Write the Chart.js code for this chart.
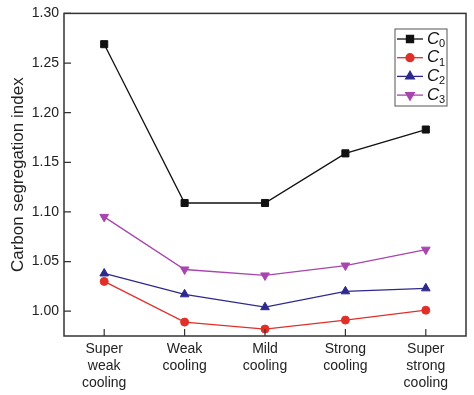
<!DOCTYPE html>
<html>
<head>
<meta charset="utf-8">
<script src="https://cdn.jsdelivr.net/npm/chart.js@4"></script>
<style>
  html, body { margin: 0; padding: 0; background: #fff; }
  #wrap { width: 474px; height: 395px; }
</style>
</head>
<body>
<div id="wrap"><canvas id="chart" width="474" height="395"></canvas></div>
<script>
const categories = [
    ["Super", "weak", "cooling"],
    ["Weak", "cooling"],
    ["Mild", "cooling"],
    ["Strong", "cooling"],
    ["Super", "strong", "cooling"],
];
const c0 = [1.269, 1.109, 1.109, 1.159, 1.183];
const c1 = [1.030, 0.989, 0.982, 0.991, 1.001];
const c2 = [1.038, 1.017, 1.004, 1.020, 1.023];
const c3 = [1.095, 1.042, 1.036, 1.046, 1.062];
const seriesNames = ["0", "1", "2", "3"];
const yTicks = [1.00, 1.05, 1.10, 1.15, 1.20, 1.25, 1.30];

const axisColor = "#333";
const font = "Liberation Sans, Arial, sans-serif";

function series(data, color, style, radius, rotation) {
    return {
        data: data,
        borderColor: color,
        backgroundColor: color,
        borderWidth: 1.3,
        pointStyle: style,
        pointRadius: radius,
        pointRotation: rotation,
        pointBorderWidth: 1,
        tension: 0,
    };
}

// frame, inward ticks and legend with subscripts
const extras = {
    id: "extras",
    afterDraw(chart) {
        const ctx = chart.ctx;
        const a = chart.chartArea;
        const x = chart.scales.x;
        const y = chart.scales.y;
        ctx.save();
        ctx.strokeStyle = axisColor;
        ctx.lineWidth = 1.5;
        ctx.strokeRect(a.left, a.top, a.right - a.left, a.bottom - a.top);
        ctx.lineWidth = 1.2;
        ctx.beginPath();
        y.ticks.forEach((t) => {
            const py = y.getPixelForValue(t.value);
            ctx.moveTo(a.left, py);
            ctx.lineTo(a.left + 7, py);
        });
        categories.forEach((c, i) => {
            const px = x.getPixelForValue(i);
            ctx.moveTo(px, a.bottom);
            ctx.lineTo(px, a.bottom - 7);
        });
        ctx.stroke();

        // legend
        const lx = 395, ly = 29, lw = 52, lh = 77;
        ctx.lineWidth = 1;
        ctx.strokeStyle = "#555";
        ctx.strokeRect(lx, ly, lw, lh);
        chart.data.datasets.forEach((ds, i) => {
            const ry = 39 + i * 18.7;
            ctx.strokeStyle = ds.borderColor;
            ctx.lineWidth = 1.3;
            ctx.beginPath();
            ctx.moveTo(lx + 2, ry);
            ctx.lineTo(lx + 28, ry);
            ctx.stroke();
            ctx.fillStyle = ds.backgroundColor;
            Chart.helpers.drawPoint(ctx, {
                pointStyle: ds.pointStyle,
                radius: ds.pointRadius,
                rotation: ds.pointRotation,
                borderWidth: 1,
            }, lx + 15, ry);
            ctx.fillStyle = "#111";
            ctx.textBaseline = "middle";
            ctx.textAlign = "left";
            ctx.font = "italic 17px " + font;
            ctx.fillText("C", lx + 32, ry);
            ctx.font = "11px " + font;
            ctx.fillText(seriesNames[i], lx + 44, ry + 5);
        });
        ctx.restore();
    },
};

new Chart(document.getElementById("chart"), {
    type: "line",
    data: {
        labels: categories,
        datasets: [
            series(c0, "#111111", "rect", 5, 0),
            series(c1, "#e0302a", "circle", 4, 0),
            series(c2, "#2e2a8c", "triangle", 5, 0),
            series(c3, "#a845ae", "triangle", 5, 180),
        ],
    },
    options: {
        responsive: false,
        animation: false,
        layout: { padding: { top: 12, right: 8, left: 0, bottom: 0 } },
        plugins: {
            legend: { display: false },
            tooltip: { enabled: false },
        },
        scales: {
            x: {
                type: "category",
                offset: true,
                grid: { display: false, drawTicks: false },
                border: { display: false },
                ticks: {
                    color: "#222",
                    font: { family: font, size: 14 },
                    padding: 5,
                    maxRotation: 0,
                    autoSkip: false,
                },
                afterFit: (s) => { s.height = 59; },
            },
            y: {
                min: 0.975,
                max: 1.30,
                grid: { display: false, drawTicks: false },
                border: { display: false },
                afterBuildTicks: (s) => { s.ticks = yTicks.map((v) => ({ value: v })); },
                ticks: {
                    color: "#222",
                    font: { family: font, size: 14 },
                    padding: 5,
                    callback: (v) => Number(v).toFixed(2),
                },
                title: {
                    display: true,
                    text: "Carbon segregation index",
                    color: "#222",
                    font: { family: font, size: 17 },
                    padding: { top: 8, bottom: 2 },
                },
                afterFit: (s) => { s.width = 64; },
            },
        },
    },
    plugins: [extras],
});
</script>
</body>
</html>
